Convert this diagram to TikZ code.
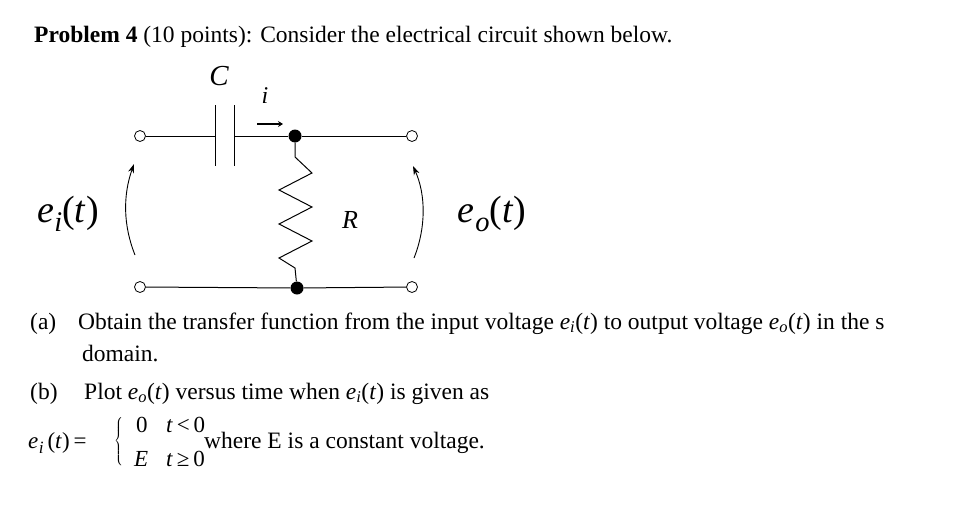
\documentclass[tikz,border=0pt]{standalone}
\usepackage{fontspec}
\setmainfont{Liberation Serif}
\usetikzlibrary{arrows.meta}
\newcommand{\vi}[2]{\textit{#1}\kern0.5pt\raisebox{-0.25em}{\scalebox{0.75}{\textit{#2}}}}
\begin{document}
\begin{tikzpicture}[x=1pt,y=-1pt,
  txt/.style={anchor=base west,inner sep=0pt,font=\fontsize{23.5}{28}\selectfont},
  wire/.style={line width=1pt},
  term/.style={circle,draw,fill=white,minimum size=11pt,inner sep=0pt,line width=0.8pt},
  dot/.style={circle,fill=black,minimum size=13pt,inner sep=0pt},
  varr/.style={line width=0.9pt,-{Stealth[length=9pt,width=6pt]}},
  lbl/.style={inner sep=0pt,font=\fontsize{38}{42}\selectfont\itshape},
  eqt/.style={anchor=base west,inner sep=0pt,font=\fontsize{23}{27}\selectfont}]
\useasboundingbox (0,0) rectangle (965,511);
\node[txt] (title) at (34,42) {\textbf{Problem 4} (10 points): Consider the electrical circuit shown below.};
% circuit
\coordinate (c1) at (215,136);
\coordinate (c2) at (234,136);
\coordinate (rt) at (295,157);
\draw[wire] (215,105) -- (215,166);
\draw[wire] (234,105) -- (234,166);
\node[term] (ti) at (140,136) {};
\node[term] (bi) at (140,287) {};
\node[term] (to) at (412,136) {};
\node[term] (bo) at (412,287) {};
\node[dot] (j1) at (295,136) {};
\node[dot] (j2) at (297,288) {};
\draw[wire] (ti) -- (c1);
\draw[wire] (c2) -- (j1) -- (to);
\draw[wire] (bi) -- (j2) -- (bo);
\draw[wire] (j1) -- (rt) -- (312,173) -- (279,190) -- (312,207) -- (279,224) -- (312,241) -- (279,258) -- (295,268) -- (j2);
\draw[line width=1.4pt,-{Stealth[length=5pt,width=6pt]}] (257,124) -- (283,124);
\draw[varr] (135,255) .. controls (123,225) and (123,195) .. (134,164);
\draw[varr] (414,258) .. controls (426,228) and (426,195) .. (413,166);
\node[inner sep=0pt,font=\fontsize{29}{32}\selectfont\itshape] (C) at (219,76) {C};
\node[inner sep=0pt,font=\fontsize{24}{28}\selectfont\itshape] (i) at (265,96) {i};
\node[inner sep=0pt,font=\fontsize{26}{30}\selectfont\itshape] (R) at (350,220) {R};
\node[lbl] (ei) at (68,214) {\vi{e}{i}\textup{(}t\textup{)}};
\node[lbl] (eo) at (492,214) {\vi{e}{o}\textup{(}t\textup{)}};
% questions
\node[txt] (qa) at (30,329) {(a)};
\node[txt] (qat) at (78,329) {Obtain the transfer function from the input voltage \textit{e\textsubscript{i}}(\textit{t}) to output voltage \textit{e\textsubscript{o}}(\textit{t}) in the s};
\node[txt] (qa2) at (82,361) {domain.};
\node[txt] (qb) at (30,399) {(b)};
\node[txt] (qbt) at (84,399) {Plot \textit{e\textsubscript{o}}(\textit{t}) versus time when \textit{e\textsubscript{i}}(\textit{t}) is given as};
\node[eqt] (eql) at (28,448) {\vi{e}{i}\,(\textit{t})\,=};
\node[inner sep=0pt,anchor=west] (br) at (114,441) {\scalebox{1}[1.15]{$\left\{\rule{0pt}{24pt}\right.$}};
\node[eqt] (r1a) at (136,432) {0};
\node[eqt] (r1b) at (166,432) {\textit{t}\,<\,0};
\node[eqt] (r2a) at (134,466) {\textit{E}};
\node[eqt] (r2b) at (166,466) {\textit{t}\,≥\,0};
\node[txt] (wh) at (204,448) {where E is a constant voltage.};
\end{tikzpicture}
\end{document}
